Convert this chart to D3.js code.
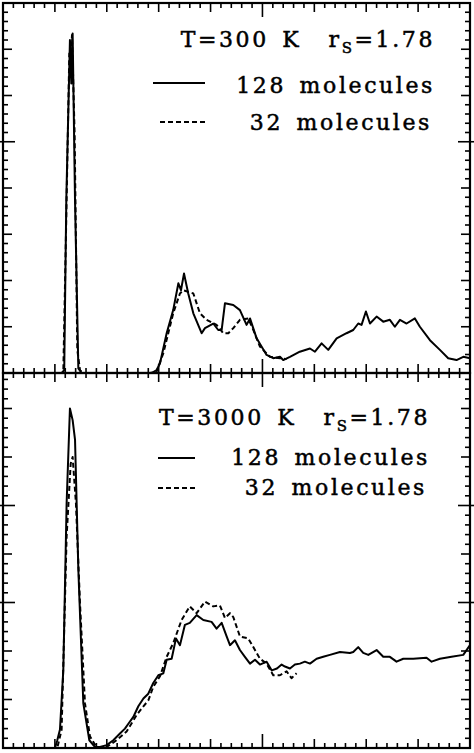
<!DOCTYPE html>
<html><head><meta charset="utf-8">
<script src="https://cdn.jsdelivr.net/npm/d3@7"></script>
<style>body{margin:0;background:#fff}svg{display:block}text{font-family:"DejaVu Serif",serif;fill:#000;white-space:pre;letter-spacing:2.6px;word-spacing:4px;stroke:#000;stroke-width:0.5px}</style>
</head><body><svg id="c" width="474" height="753"></svg>
<script>
// Top panel (T=300 K): [r, g]
const top128 = [[0,0],[0.565,0],[0.59,0.06],[0.61,3.74],[0.645,7.2],[0.658,6.26],[0.671,7.34],[0.694,3.74],[0.726,0.1],[0.758,0],[1.432,0],[1.48,0.06],[1.513,0.21],[1.577,0.86],[1.64,1.36],[1.69,1.94],[1.715,1.79],[1.744,2.15],[1.785,1.72],[1.834,1.29],[1.914,0.86],[1.946,0.97],[2.026,1.07],[2.074,0.93],[2.107,0.93],[2.139,1.51],[2.219,1.47],[2.283,1.36],[2.347,1.04],[2.38,1.18],[2.444,0.75],[2.54,0.39],[2.604,0.32],[2.669,0.35],[2.70,0.28],[2.765,0.35],[2.86,0.46],[2.958,0.53],[3.006,0.46],[3.07,0.64],[3.134,0.5],[3.215,0.75],[3.31,0.86],[3.375,0.93],[3.423,1.07],[3.455,1.04],[3.497,1.33],[3.536,1.07],[3.60,1.22],[3.664,1.11],[3.728,1.15],[3.776,1.0],[3.825,1.15],[3.889,1.07],[3.969,1.18],[4.017,1.0],[4.114,0.71],[4.21,0.5],[4.29,0.32],[4.37,0.28],[4.435,0.35],[4.5,0.32]];
const top32 = [[0,0],[0.581,0],[0.607,3.02],[0.639,6.91],[0.652,6.77],[0.665,7.31],[0.69,5.18],[0.716,0.5],[0.742,0.06],[0.774,0],[1.416,0],[1.48,0.03],[1.545,0.43],[1.64,1.29],[1.705,1.72],[1.737,1.79],[1.834,1.72],[1.898,1.29],[1.962,1.15],[2.058,1.04],[2.123,0.86],[2.171,0.86],[2.219,0.97],[2.283,1.15],[2.363,1.18],[2.412,0.93],[2.476,0.57],[2.572,0.35],[2.669,0.32],[2.733,0.3]];
// Bottom panel (T=3000 K)
const bot128 = [[0,0],[0.501,0],[0.523,0.08],[0.549,0.19],[0.581,0.8],[0.613,2.52],[0.645,3.5],[0.671,3.38],[0.694,3.18],[0.726,1.84],[0.774,0.46],[0.806,0.25],[0.832,0.08],[0.887,0.01],[0.934,0.01],[0.999,0.03],[1.063,0.08],[1.127,0.15],[1.175,0.2],[1.208,0.25],[1.256,0.32],[1.304,0.43],[1.353,0.51],[1.40,0.56],[1.448,0.67],[1.497,0.75],[1.545,0.77],[1.577,0.91],[1.625,0.92],[1.667,1.13],[1.705,1.06],[1.753,1.27],[1.80,1.29],[1.866,1.37],[1.93,1.32],[2.01,1.3],[2.058,1.23],[2.107,1.29],[2.155,1.15],[2.187,1.06],[2.235,1.11],[2.283,1.01],[2.331,0.94],[2.38,0.87],[2.428,0.91],[2.476,0.86],[2.54,0.89],[2.59,0.8],[2.64,0.82],[2.685,0.86],[2.717,0.84],[2.765,0.82],[2.813,0.86],[2.861,0.87],[2.909,0.89],[2.958,0.87],[3.022,0.92],[3.086,0.94],[3.15,0.96],[3.247,0.99],[3.343,0.98],[3.375,0.99],[3.423,1.04],[3.471,0.98],[3.52,0.96],[3.60,1.01],[3.664,0.94],[3.728,0.94],[3.792,0.89],[3.857,0.92],[3.953,0.92],[4.081,0.93],[4.13,0.89],[4.21,0.92],[4.322,0.94],[4.435,0.96],[4.5,1.06]];
const bot32 = [[0,0],[0.523,0],[0.565,0.19],[0.613,2.18],[0.652,2.93],[0.671,3.0],[0.703,2.52],[0.742,1.49],[0.79,0.46],[0.838,0.12],[0.90,0.01],[0.999,0.01],[1.095,0.08],[1.191,0.17],[1.288,0.34],[1.353,0.43],[1.40,0.49],[1.448,0.63],[1.513,0.74],[1.577,0.94],[1.64,1.08],[1.721,1.32],[1.80,1.46],[1.866,1.39],[1.946,1.51],[2.026,1.46],[2.09,1.47],[2.139,1.34],[2.187,1.39],[2.219,1.35],[2.283,1.15],[2.363,1.13],[2.412,1.04],[2.476,0.92],[2.54,0.87],[2.604,0.75],[2.669,0.75],[2.733,0.79],[2.78,0.72],[2.829,0.77]];
const titles = [["T=300 K  r","S","=1.78"],["T=3000 K  r","S","=1.78"]];
const legendLabels = ["128 molecules","32 molecules"];

const svg = d3.select("#c");
const x = d3.scaleLinear().domain([0,4.5]).range([3,470]);
const panels = [
  {y: d3.scaleLinear().domain([0,8]).range([373,3]), data:[top128,top32], minor:0.2, med:1, major:[5],
   title:{x:435,y:47}, leg:[{y:83,x1:153,x2:205,tx:435,ty:93},{y:122,x1:160,x2:205,tx:432,ty:130}]},
  {y: d3.scaleLinear().domain([0,375/97]).range([748,373]), data:[bot128,bot32], minor:0.1, med:0.5, major:[1.5,2.5],
   title:{x:430,y:425}, leg:[{y:458,x1:158,x2:195,tx:430,ty:465},{y:488,x1:158,x2:195,tx:427,ty:495}]}
];
const xt = d3.range(0,4.501,0.1);
panels.forEach(p=>{
  const [y0,y1] = p.y.range();
  const g = svg.append("g").attr("stroke","#000").attr("stroke-width",1.6);
  xt.forEach((v,i)=>{
    const len = (i%25===0)? 14 : (i%5===0? 9 : 5);
    const X = x(v);
    g.append("line").attr("x1",X).attr("x2",X).attr("y1",y0).attr("y2",y0-len);
    g.append("line").attr("x1",X).attr("x2",X).attr("y1",y1).attr("y2",y1+len);
  });
  const ymax = p.y.domain()[1];
  const n = Math.floor(ymax/p.minor+1e-6);
  for(let i=0;i<=n;i++){
    const v=+(i*p.minor).toFixed(3);
    const isMaj = p.major.some(m=>Math.abs(m-v)<1e-6);
    const isMed = Math.abs(v/p.med-Math.round(v/p.med))<1e-6;
    const len = isMaj?12:(isMed?9:5);
    const Y=p.y(v);
    g.append("line").attr("x1",isMaj?0:3).attr("x2",3+len).attr("y1",Y).attr("y2",Y);
    g.append("line").attr("x1",isMaj?474:470).attr("x2",470-len).attr("y1",Y).attr("y2",Y);
  }
  g.append("rect").attr("x",3).attr("y",y1).attr("width",467).attr("height",y0-y1).attr("fill","none").attr("stroke-width",2.2);
  const line = d3.line().x(d=>x(d[0])).y(d=>p.y(d[1]));
  p.data.forEach((d,k)=>{
    svg.append("path").datum(d).attr("d",line).attr("fill","none").attr("stroke","#000")
      .attr("stroke-width",2).attr("stroke-dasharray",k?"5,3":null).attr("stroke-linejoin","round");
  });
});
panels.forEach((p,i)=>{
  const t = svg.append("text").attr("x",p.title.x).attr("y",p.title.y).attr("text-anchor","end").attr("font-size",22);
  t.append("tspan").text(titles[i][0]);
  t.append("tspan").attr("dy",6).attr("font-size",15).text(titles[i][1]);
  t.append("tspan").attr("dy",-6).text(titles[i][2]);
  p.leg.forEach((l,k)=>{
    svg.append("line").attr("x1",l.x1).attr("x2",l.x2).attr("y1",l.y).attr("y2",l.y).attr("stroke","#000")
      .attr("stroke-width",2).attr("stroke-dasharray",k?"5,3":null);
    svg.append("text").attr("x",l.tx).attr("y",l.ty).attr("text-anchor","end").attr("font-size",22).text(legendLabels[k]);
  });
});
</script></body></html>
